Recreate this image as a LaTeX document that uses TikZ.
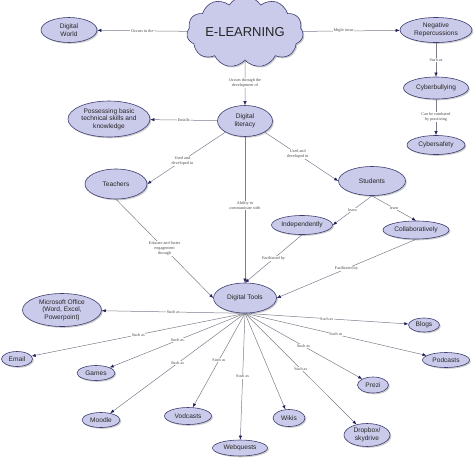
\documentclass[tikz,border=0pt]{standalone}
\usepackage{fontspec}
\setmainfont{Liberation Sans}
\newfontfamily\notefont{Liberation Serif}
\usetikzlibrary{arrows.meta,shapes.geometric,shapes.symbols,shadows}
\definecolor{lav}{HTML}{CACAEA}
\definecolor{rim}{HTML}{3D3D72}
\definecolor{wire}{HTML}{7C7C8C}
\definecolor{tipc}{HTML}{1C1C58}
\definecolor{notec}{HTML}{4A4A4A}
\tikzset{
  concept/.style 2 args={ellipse,draw=rim,fill=lav,line width=0.6pt,align=center,inner sep=0pt,
    minimum width=#1,minimum height=#2,font=\fontsize{6.6}{7.7}\selectfont,text=black!85,
    drop shadow={shadow xshift=1.3pt,shadow yshift=-1.3pt,fill=black!40}},
  bigcloud/.style={cloud,cloud puffs=11,cloud puff arc=115,aspect=2,draw=rim,fill=lav,line width=0.6pt,
    inner sep=0pt,minimum width=116pt,minimum height=58pt,font=\fontsize{13}{15}\selectfont,text=black!85,
    drop shadow={shadow xshift=1.3pt,shadow yshift=-1.3pt,fill=black!40}},
  link/.style={draw=wire,line width=0.5pt,-{Latex[length=4pt,width=3.2pt,color=tipc]}},
  lbl/.style={font=\notefont\fontsize{4.2}{4.9}\selectfont,text=notec,fill=white,inner sep=0.6pt,align=center},
}
\begin{document}
\begin{tikzpicture}[x=1pt,y=-1pt]
  \useasboundingbox (0,0) rectangle (474,459);
  % top row
  \node[bigcloud] (elearn) at (245,32) {E-LEARNING};
  \node[concept={56pt}{25pt}] (world) at (69,30) {Digital\\World};
  \node[concept={72pt}{25pt}] (neg) at (436,30) {Negative\\Repercussions};
  \node[concept={65pt}{22pt}] (bully) at (436,88) {Cyberbullying};
  \node[concept={58pt}{19pt}] (safe) at (436,145) {Cybersafety};
  % literacy and the people
  \node[concept={55pt}{31pt}] (lit) at (245,121) {Digital\\literacy};
  \node[concept={82pt}{36pt}] (skills) at (109,119) {Possessing basic\\technical skills and\\knowledge};
  \node[concept={62pt}{30pt}] (teach) at (116,184) {Teachers};
  \node[concept={67pt}{29pt}] (stud) at (372,181) {Students};
  \node[concept={61pt}{19pt}] (indep) at (302,225) {Independently};
  \node[concept={66pt}{18pt}] (collab) at (416,230) {Collaboratively};
  % tools
  \node[concept={63pt}{30pt}] (tools) at (245,298) {Digital Tools};
  \node[concept={79pt}{33pt}] (office) at (62,310) {Microsoft Office\\(Word, Excel,\\Powerpoint)};
  \node[concept={31pt}{15pt}] (email) at (17,359) {Email};
  \node[concept={38pt}{15pt}] (games) at (96,373) {Games};
  \node[concept={38pt}{15pt}] (moodle) at (101,420) {Moodle};
  \node[concept={47pt}{17pt}] (vod) at (188,416) {Vodcasts};
  \node[concept={55pt}{16pt}] (webq) at (240,448) {Webquests};
  \node[concept={32pt}{17pt}] (wikis) at (289,418) {Wikis};
  \node[concept={46pt}{23pt}] (dropbox) at (367,435) {Dropbox/\\skydrive};
  \node[concept={31pt}{16pt}] (prezi) at (373,385) {Prezi};
  \node[concept={47pt}{15pt}] (pod) at (446,360) {Podcasts};
  \node[concept={31pt}{14pt}] (blogs) at (424,325) {Blogs};
  % links
  \draw[link] (elearn) -- node[lbl]{Occurs in the} (world);
  \draw[link] (elearn) -- node[lbl,pos=0.42]{Might incur} (neg);
  \draw[link] (elearn) -- node[lbl]{Occurs through the\\development of} (lit);
  \draw[link] (neg) -- node[lbl]{Such as} (bully);
  \draw[link] (bully) -- node[lbl]{Can be combated\\by practicing} (safe);
  \draw[link] (lit) -- node[lbl]{Entails} (skills);
  \draw[link] (lit.south west) -- node[lbl,pos=0.55]{Used and\\developed in} (teach.east);
  \draw[link] (lit.south east) -- node[lbl,pos=0.45]{Used and\\developed in} (stud.west);
  \draw[link] (lit) -- node[lbl,pos=0.47]{Ability to\\communicate with} (tools);
  \draw[link] (teach.south) -- node[lbl]{Educate and foster\\engagement\\through} (tools.west);
  \draw[link] (stud.south) -- node[lbl]{learn} (indep.east);
  \draw[link] (stud.south) -- node[lbl]{learn} (collab.north);
  \draw[link] (indep.south) -- node[lbl]{Facilitated by} (tools.north);
  \draw[link] (collab.south) -- node[lbl]{Facilitated by} (tools.east);
  \foreach \t in {office,email,games,moodle,vod,webq,dropbox,prezi,pod,blogs}
    \draw[link] (tools.south) -- node[lbl]{Such as} (\t);
  \draw[link] (tools.south) -- (wikis);
\end{tikzpicture}
\end{document}
